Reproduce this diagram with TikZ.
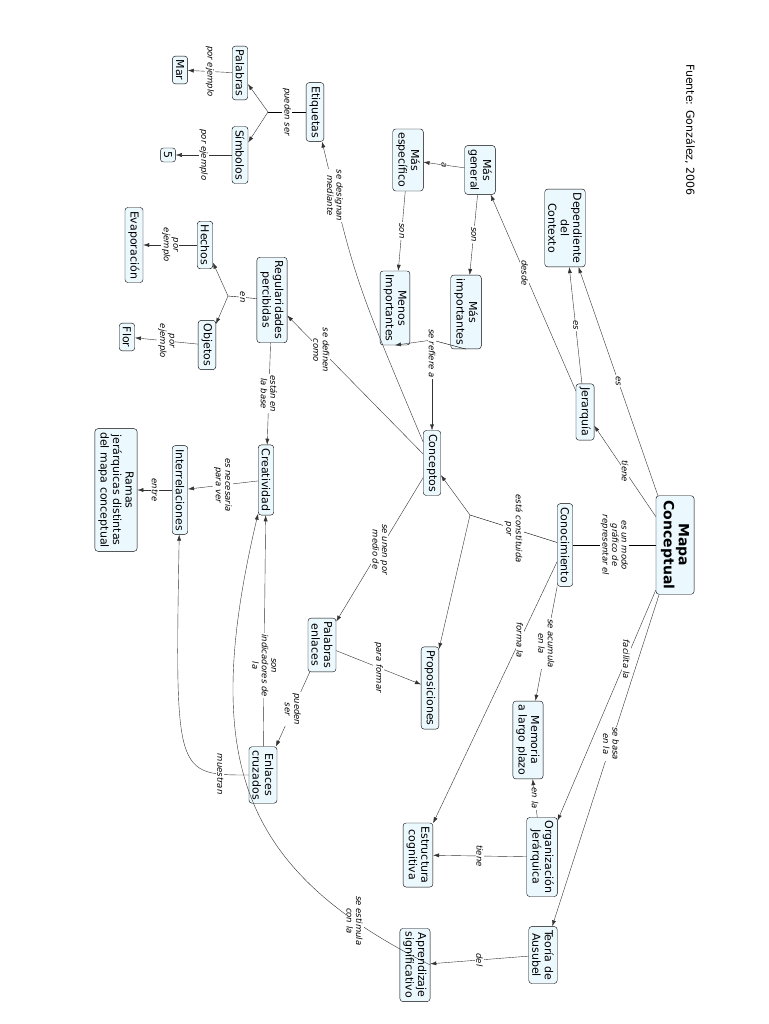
\documentclass[tikz,border=0pt]{standalone}
\usepackage{fontspec}
\setmainfont{DejaVu Sans}
\usetikzlibrary{arrows.meta}
\tikzset{
  concept/.style={draw, rounded corners=3pt, fill=cyan!8, rotate=-90, align=center,
    font=\fontsize{11}{12.5}\selectfont, inner sep=3.5pt},
  lab/.style={fill=white, rotate=-90, align=center, inner sep=1pt,
    font=\fontsize{8.5}{9.5}\selectfont\itshape},
  link/.style={-{Latex[length=6pt,width=4pt]}, draw=black!80}
}
\begin{document}
\begin{tikzpicture}[x=1pt,y=-1pt]
\useasboundingbox[fill=white] (0,0) rectangle (768,1024);

% concepts
\node[concept, font=\fontsize{14}{15}\selectfont\bfseries, inner sep=5pt] (mapa) at (675,545) {Mapa\\Conceptual};
\node[rotate=-90, font=\fontsize{11}{12}\selectfont] (fuente) at (690,130) {Fuente: González, 2006};
\node[concept] (depend) at (565,228) {Dependiente\\del\\Contexto};
\node[concept] (jerarquia) at (585,412) {Jerarquía};
\node[concept] (general) at (480,170) {Más\\general};
\node[concept] (especif) at (408,160) {Más\\específico};
\node[concept] (menos) at (395,308) {Menos\\Importantes};
\node[concept] (masimp) at (466,312) {Más\\importantes};
\node[concept] (conceptos) at (432,463) {Conceptos};
\node[concept] (etiquetas) at (315,112) {Etiquetas};
\node[concept] (palabras) at (240,73) {Palabras};
\node[concept] (mar) at (180,70) {Mar};
\node[concept] (simbolos) at (240,155) {Símbolos};
\node[concept] (cinco) at (168,155) {5};
\node[concept] (regular) at (272,300) {Regularidades\\percibidas};
\node[concept] (hechos) at (205,245) {Hechos};
\node[concept] (evapora) at (134,245) {Evaporación};
\node[concept] (objetos) at (207,345) {Objetos};
\node[concept] (flor) at (127,337) {Flor};
\node[concept] (creativ) at (266,480) {Creatividad};
\node[concept] (interrel) at (180,490) {Interrelaciones};
\node[concept] (ramas) at (116,490) {Ramas\\jerárquicas distintas\\del mapa conceptual};
\node[concept] (conoc) at (565,545) {Conocimiento};
\node[concept] (propos) at (430,688) {Proposiciones};
\node[concept] (palenl) at (322,645) {Palabras\\enlaces};
\node[concept] (memoria) at (528,740) {Memoria\\a largo plazo};
\node[concept] (organiz) at (542,857) {Organización\\Jerárquica};
\node[concept] (estruct) at (418,855) {Estructura\\cognitiva};
\node[concept] (cruzados) at (263,775) {Enlaces\\cruzados};
\node[concept] (teoria) at (543,955) {Teoría de\\Ausubel};
\node[concept] (aprend) at (415,965) {Aprendizaje\\significativo};

% links
\draw[link] (mapa) -- node[lab]{es} (depend);
\draw[link] (mapa) -- node[lab]{tiene} (jerarquia);
\draw[link] (jerarquia) -- node[lab]{es} (depend);
\draw[link] (jerarquia) -- node[lab, pos=0.6]{desde} (general);
\draw[link] (general) -- node[lab]{a} (especif);
\draw[link] (general) -- node[lab]{son} (masimp);
\draw[link] (especif) -- node[lab]{son} (menos);
\draw (masimp.east) -- (432,340);
\draw[link] (432,340) -- (menos.east);
\draw[link] (432,340) -- node[lab, pos=0.15]{se refiere a} (conceptos);
\draw (mapa) -- node[lab]{es un modo\\gráfico de\\representar el} (conoc);
\draw (conoc) -- node[lab]{está constituida\\por} (470,515);
\draw[link] (470,515) -- (conceptos);
\draw[link] (470,515) -- (propos);
\draw[link] (conceptos) .. controls (355,280) .. node[lab, pos=0.85]{se designan\\mediante} (etiquetas);
\draw[link] (conceptos) -- node[lab, pos=0.75]{se definen\\como} (regular);
\draw (etiquetas) -- node[lab]{pueden ser} (268,112);
\draw[link] (268,112) -- (palabras);
\draw[link] (268,112) -- (simbolos);
\draw[link] (palabras) -- node[lab]{por ejemplo} (mar);
\draw[link] (simbolos) -- node[lab]{por ejemplo} (cinco);
\draw (regular) -- node[lab]{en} (228,296);
\draw[link] (228,296) -- (hechos);
\draw[link] (228,296) -- (objetos);
\draw[link] (hechos) -- node[lab]{por\\ejemplo} (evapora);
\draw[link] (objetos) -- node[lab]{por\\ejemplo} (flor);
\draw[link] (regular) -- node[lab]{están en\\la base} (creativ);
\draw[link] (creativ) -- node[lab]{es necesaria\\para ver} (interrel);
\draw[link] (interrel) -- node[lab]{entre} (ramas);
\draw[link] (conceptos) -- node[lab]{se unen por\\medio de} (palenl);
\draw[link] (palenl) -- node[lab]{para formar} (propos);
\draw[link] (palenl) -- node[lab]{pueden\\ser} (cruzados);
\draw[link] (cruzados) -- node[lab, pos=0.35]{son\\indicadores de\\la} (creativ);
\draw[link] (cruzados.south) .. controls (175,775) .. node[lab, pos=0.15]{muestran} (interrel);
\draw[link] (conoc) -- node[lab]{se acumula\\en la} (memoria);
\draw[link] (conoc) -- node[lab, pos=0.3]{forma la} (estruct);
\draw[link] (organiz) -- node[lab]{en la} (memoria);
\draw[link] (organiz) -- node[lab]{tiene} (estruct);
\draw[link] (mapa) -- node[lab, pos=0.3]{facilita la} (organiz);
\draw[link] (mapa) -- node[lab, pos=0.45]{se basa\\en la} (teoria);
\draw[link] (teoria) -- node[lab]{del} (aprend);
\draw[link] (aprend.north) .. controls (240,870) and (200,760) .. node[lab, pos=0.15]{se estimula\\con la} (creativ);
\end{tikzpicture}
\end{document}
